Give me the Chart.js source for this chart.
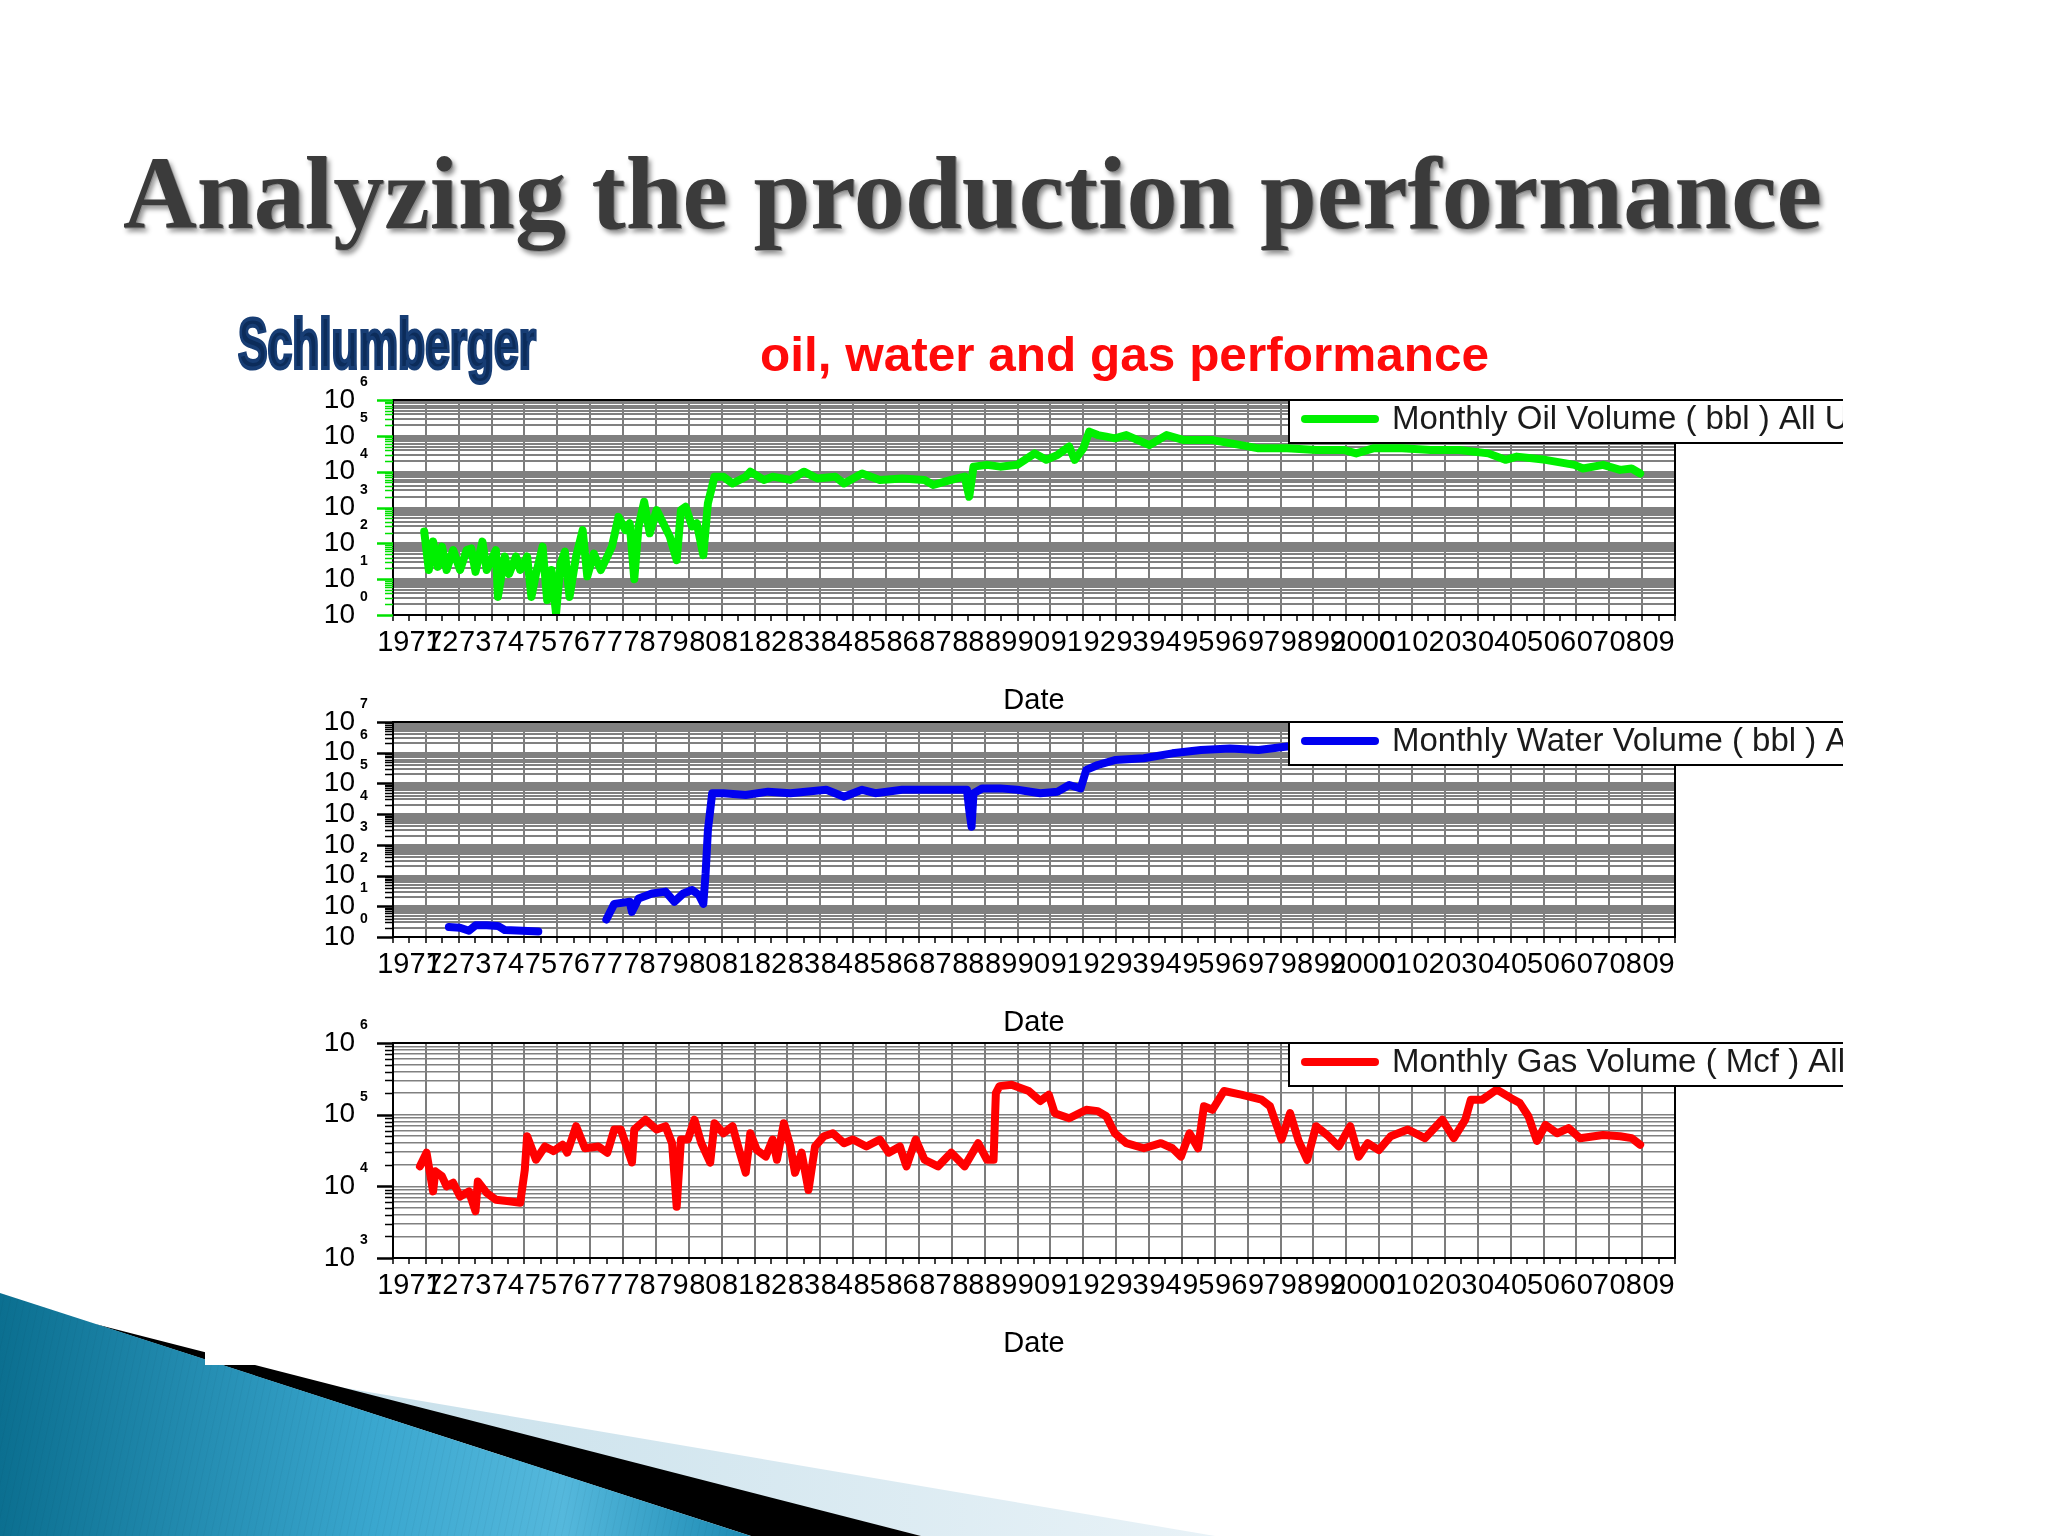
<!DOCTYPE html>
<html>
<head>
<meta charset="utf-8">
<script src="https://cdn.jsdelivr.net/npm/chart.js@4.4.1/dist/chart.umd.min.js"></script>
<style>
  html, body { margin: 0; padding: 0; background: #fff; }
  body { width: 2048px; height: 1536px; position: relative; overflow: hidden; }
  #deco { position: absolute; left: 0; top: 0; }
  .txt { position: absolute; white-space: nowrap; transform-origin: 0 0; }
  #title { left: 123px; top: 142px; font: bold 103px/103px 'Liberation Serif', 'Times New Roman', serif; color: #3b3b3b;
           text-shadow: 1px 1px 0 #8c8c8c, 3px 4px 5px rgba(0,0,0,0.45); }
  #logo { left: 238px; top: 309px; font: bold 70px/70px 'Liberation Sans', Arial, sans-serif; color: #0c2c5a;
          -webkit-text-stroke: 4px #173d74; }
  #subtitle { left: 760px; top: 330px; font: bold 49px/49px 'Liberation Sans', Arial, sans-serif; color: #ff0a0a; }
  .chart-box { position: absolute; left: 300px; width: 1560px; height: 350px; }
</style>
</head>
<body>
<svg id="deco" width="2048" height="1536">
  <defs>
    <linearGradient id="blueGrad" x1="0" y1="0" x2="1" y2="0">
      <stop offset="0" stop-color="#0b6f90"/>
      <stop offset="0.5" stop-color="#3aa7cf"/>
      <stop offset="0.75" stop-color="#55b8dc"/>
      <stop offset="1" stop-color="#1b8ab3"/>
    </linearGradient>
    <linearGradient id="paleGrad" x1="0" y1="0" x2="1" y2="0">
      <stop offset="0" stop-color="#c6dfea"/>
      <stop offset="1" stop-color="#e8f2f7"/>
    </linearGradient>
    <pattern id="stripes" width="7" height="7" patternUnits="userSpaceOnUse" patternTransform="rotate(12)">
      <line x1="0" y1="0" x2="0" y2="7" stroke="rgba(0,40,60,0.10)" stroke-width="1"/>
    </pattern>
  </defs>
  <polygon points="286,1378 1215,1536 921,1536" fill="url(#paleGrad)"/>
  <polygon points="95,1324 921,1536 751,1536" fill="#000"/>
  <polygon points="0,1293 751,1536 0,1536" fill="url(#blueGrad)"/>
  <polygon points="0,1293 751,1536 0,1536" fill="url(#stripes)"/>
  <rect x="205" y="1200" width="1843" height="165" fill="#fff"/>
</svg>

<div id="title" class="txt">Analyzing the production performance</div>
<div id="logo" class="txt">Schlumberger</div>
<div id="subtitle" class="txt">oil, water and gas performance</div>

<div class="chart-box" style="top:370px"><canvas id="oilChart" width="1560" height="350"></canvas></div>
<div class="chart-box" style="top:692px"><canvas id="waterChart" width="1560" height="350"></canvas></div>
<div class="chart-box" style="top:1013px"><canvas id="gasChart" width="1560" height="350"></canvas></div>

<script>
const firstYear = 1971;
const yearLabels = ['1971', '72', '73', '74', '75', '76', '77', '78', '79', '80',
    '81', '82', '83', '84', '85', '86', '87', '88', '89', '90',
    '91', '92', '93', '94', '95', '96', '97', '98', '99', '2000',
    '01', '02', '03', '04', '05', '06', '07', '08', '09'];

// oil, bbl per month
const oilYears = [1971.95, 1972.09, 1972.22, 1972.36, 1972.49, 1972.63, 1972.83, 1973.04, 1973.24, 1973.38,
    1973.51, 1973.72, 1973.85, 1974.13, 1974.19, 1974.40, 1974.53, 1974.74, 1974.87, 1975.08,
    1975.21, 1975.35, 1975.55, 1975.69, 1975.82, 1975.96, 1976.10, 1976.23, 1976.37, 1976.57,
    1976.77, 1976.91, 1977.11, 1977.32, 1977.52, 1977.66, 1977.86, 1978.07, 1978.20, 1978.34,
    1978.47, 1978.64, 1978.81, 1979.02, 1979.22, 1979.42, 1979.63, 1979.76, 1979.90, 1980.10,
    1980.24, 1980.44, 1980.58, 1980.78, 1981.05, 1981.33, 1981.73, 1981.87, 1982.28, 1982.55,
    1983.09, 1983.50, 1983.91, 1984.45, 1984.72, 1985.27, 1985.81, 1986.49, 1987.17, 1987.44,
    1987.98, 1988.39, 1988.53, 1988.66, 1989.07,
    1989.47, 1989.99, 1990.52, 1990.87, 1991.22, 1991.57, 1991.74, 1992.00, 1992.18, 1992.44,
    1992.70, 1992.96, 1993.31, 1994.01, 1994.53, 1995.06, 1995.93, 1996.80, 1997.33, 1998.20,
    1999.08, 1999.95, 2000.30, 2000.82, 2001.70, 2002.57, 2003.44, 2004.32, 2004.84, 2005.19,
    2006.06, 2006.94, 2007.20, 2007.81, 2008.33, 2008.68, 2008.94];
const oilValues = [214, 18, 112, 22, 81, 18, 65, 18, 65, 72,
    16, 112, 18, 65, 3.2, 43, 14, 43, 18, 43,
    3.2, 14, 81, 2.6, 18, 1.1, 28, 59, 3.2, 43,
    234, 12, 52, 18, 43, 81, 550, 234, 363, 10,
    295, 1445, 191, 851, 363, 155, 34, 851, 1047, 295,
    363, 47, 1318, 7244, 7244, 4677, 7244, 10000, 5888, 7244,
    5888, 10000, 6457, 7244, 4677, 8913, 5888, 6457, 5888, 4266,
    5888, 7244, 1995, 13800, 15500,
    13800, 15500, 32400, 21400, 29500, 50100, 21400, 44700, 131000, 105000,
    95000, 85000, 105000, 55000, 105000, 76000, 76000, 55000, 44700, 44700,
    40000, 40000, 32400, 44700, 44700, 40000, 40000, 32400, 21400, 26300,
    21400, 15500, 12300, 15500, 11200, 12300, 8900];

// water, bbl per month (null = no production)
const waterYears = [1972.70, 1973.04, 1973.31, 1973.51, 1973.85, 1974.19, 1974.40, 1974.94, 1975.42, 1976.50,
    1977.49, 1977.73, 1978.20, 1978.27, 1978.47, 1978.88, 1979.29, 1979.56, 1979.83, 1980.10,
    1980.31, 1980.44, 1980.51, 1980.58, 1980.71, 1981.05, 1981.73, 1982.41, 1983.09, 1984.18,
    1984.72, 1985.27, 1985.67, 1986.49, 1987.44, 1988.46, 1988.53, 1988.60, 1988.66, 1988.93,
    1989.47, 1989.99, 1990.69, 1991.22, 1991.57, 1991.92, 1992.09, 1992.44, 1992.96, 1993.84,
    1994.71, 1995.58, 1996.46, 1997.33, 1998.20, 1999.50, 2001.00, 2003.00, 2005.00, 2007.00,
    2008.94];
const waterValues = [2.1, 2.0, 1.6, 2.4, 2.4, 2.3, 1.7, 1.6, 1.5, null,
    3.7, 12, 14, 6.6, 18, 26, 30, 14, 26, 34,
    23, 12, 117, 3020, 48000, 48000, 42000, 54000, 48000, 62000,
    37000, 62000, 48000, 62000, 62000, 62000, 13500, 3900, 48000, 69000,
    69000, 62000, 48000, 54000, 89000, 69000, 275000, 398000, 575000, 660000,
    955000, 1230000, 1380000, 1230000, 1590000, 1700000, 1800000, 1900000, 2000000, 2050000,
    2100000];

// gas, Mcf per month
const gasYears = [1971.82, 1972.02, 1972.09, 1972.22, 1972.29, 1972.49, 1972.63, 1972.83, 1973.04, 1973.31,
    1973.51, 1973.58, 1973.85, 1974.13, 1974.53, 1974.87, 1975.01, 1975.08, 1975.35, 1975.62,
    1975.89, 1976.16, 1976.30, 1976.57, 1976.84, 1977.25, 1977.52, 1977.73, 1977.93, 1978.27,
    1978.34, 1978.68, 1979.02, 1979.29, 1979.49, 1979.63, 1979.76, 1979.97, 1980.17, 1980.38,
    1980.65, 1980.78, 1981.05, 1981.33, 1981.53, 1981.73, 1981.87, 1982.07, 1982.34, 1982.55,
    1982.68, 1982.89, 1983.09, 1983.23, 1983.43, 1983.64, 1983.84, 1984.11, 1984.38, 1984.72,
    1984.99, 1985.40, 1985.81, 1986.08, 1986.42, 1986.62, 1986.90, 1987.17, 1987.58, 1987.98,
    1988.39, 1988.80, 1989.07, 1989.27, 1989.34, 1989.45,
    1989.82, 1990.34, 1990.69, 1990.95, 1991.13, 1991.57, 1992.09, 1992.44, 1992.70, 1992.96,
    1993.31, 1993.84, 1994.36, 1994.71, 1994.97, 1995.23, 1995.49, 1995.67, 1995.93, 1996.28,
    1996.80, 1997.42, 1997.68, 1998.03, 1998.29, 1998.55, 1998.81, 1999.08, 1999.42, 1999.77,
    2000.12, 2000.38, 2000.65, 2000.99, 2001.35, 2001.87, 2002.39, 2002.92, 2003.27, 2003.62,
    2003.79, 2004.14, 2004.58, 2005.01, 2005.28, 2005.54, 2005.80, 2006.06, 2006.41, 2006.76,
    2007.11, 2007.81, 2008.33, 2008.68, 2008.94];
const gasValues = [19000, 29500, 19000, 8500, 16200, 13800, 10000, 11200, 7200, 8500,
    4500, 11700, 8100, 6500, 6200, 5900, 17000, 50000, 23500, 36000,
    31000, 38000, 29500, 69000, 34000, 36000, 29500, 62000, 62000, 21500,
    62000, 85000, 62000, 69000, 40000, 5200, 45000, 45000, 85000, 40000,
    21500, 76000, 55000, 69000, 32000, 15500, 55000, 32000, 26000, 45000,
    23500, 76000, 36000, 15500, 29500, 8900, 36000, 50000, 55000, 40000,
    45000, 36000, 45000, 29500, 36000, 19000, 45000, 23500, 19000, 29500,
    19000, 40000, 23500, 23500, 200000, 250000,
    262000, 214000, 155000, 190000, 105000, 89000, 117000, 112000, 95000, 55000,
    40000, 34000, 40000, 34000, 26000, 55000, 34000, 131000, 117000, 214000,
    190000, 162000, 131000, 45000, 105000, 43000, 23500, 69000, 52000, 36000,
    69000, 26000, 40000, 32000, 50000, 62000, 47000, 85000, 47000, 85000,
    162000, 162000, 224000, 170000, 145000, 95000, 43000, 72000, 55000, 65000,
    47000, 52000, 50000, 47000, 38000];

Chart.defaults.font.family = "'Liberation Sans', Arial, sans-serif";
Chart.defaults.color = '#000';

function toPoints(xs, ys) {
    return xs.map((x, i) => ({ x: x, y: ys[i] }));
}

function isDecade(v) {
    const l = Math.log10(v);
    return Math.abs(l - Math.round(l)) < 1e-9;
}

// every 1..9 x 10^n line, like the old log paper
function logTicks(scale) {
    const lo = Math.round(Math.log10(scale.min));
    const hi = Math.round(Math.log10(scale.max));
    const ticks = [];
    for (let e = lo; e < hi; e++) {
        for (let m = 1; m < 10; m++) ticks.push({ value: m * Math.pow(10, e) });
    }
    ticks.push({ value: Math.pow(10, hi) });
    scale.ticks = ticks;
}

// half year ticks: grid on whole years, label in the middle of the year
function yearTicks(scale) {
    const ticks = [];
    for (let v = scale.min; v <= scale.max; v += 0.5) ticks.push({ value: v });
    scale.ticks = ticks;
}

function yearLabel(v) {
    return v % 1 === 0.5 ? yearLabels[Math.floor(v) - firstYear] : '';
}

const framePlugin = {
    id: 'frame',
    afterDatasetsDraw(chart) {
        const { ctx, chartArea: a } = chart;
        ctx.save();
        ctx.strokeStyle = '#000';
        ctx.lineWidth = 2;
        ctx.strokeRect(a.left, a.top, a.right - a.left, a.bottom - a.top);
        ctx.restore();
    }
};

// y tick marks (long on decades, short between) and the raised exponents
const decadePlugin = {
    id: 'decades',
    afterDraw(chart, args, opts) {
        const { ctx, chartArea: a } = chart;
        const y = chart.scales.y;
        ctx.save();
        ctx.strokeStyle = opts.color;
        ctx.fillStyle = '#000';
        ctx.font = "bold 14px 'Liberation Sans', Arial, sans-serif";
        ctx.textAlign = 'left';
        ctx.textBaseline = 'middle';
        y.ticks.forEach(t => {
            const major = isDecade(t.value);
            const py = Math.round(y.getPixelForValue(t.value)) + 0.5;
            ctx.lineWidth = major ? 2.5 : 1.5;
            ctx.beginPath();
            ctx.moveTo(a.left - (major ? 16 : 8), py);
            ctx.lineTo(a.left, py);
            ctx.stroke();
            if (major) ctx.fillText(String(Math.round(Math.log10(t.value))), a.left - 33, py - 18);
        });
        ctx.restore();
    }
};

const boxLegend = {
    id: 'boxLegend',
    afterDraw(chart, args, opts) {
        const { ctx, chartArea: a } = chart;
        const ds = chart.data.datasets[0];
        const x0 = a.right - opts.inset, y0 = a.top, w = opts.width, h = opts.height;
        ctx.save();
        ctx.fillStyle = '#fff';
        ctx.fillRect(x0, y0, w, h);
        ctx.strokeStyle = '#000';
        ctx.lineWidth = 2;
        ctx.beginPath();
        ctx.moveTo(x0 + w, y0);
        ctx.lineTo(x0, y0);
        ctx.lineTo(x0, y0 + h);
        ctx.lineTo(x0 + w, y0 + h);
        ctx.stroke();
        ctx.beginPath();
        ctx.rect(x0, y0 - 2, w, h + 4);
        ctx.clip();
        ctx.strokeStyle = ds.borderColor;
        ctx.lineWidth = 8;
        ctx.lineCap = 'round';
        ctx.beginPath();
        ctx.moveTo(x0 + 16, y0 + 19);
        ctx.lineTo(x0 + 86, y0 + 19);
        ctx.stroke();
        ctx.fillStyle = '#1a1a1a';
        ctx.font = "33px 'Liberation Sans', Arial, sans-serif";
        ctx.textAlign = 'left';
        ctx.textBaseline = 'middle';
        ctx.fillText(ds.label, x0 + 103, y0 + 20);
        ctx.restore();
    }
};

function makeChart(id, opt) {
    const ctx = document.getElementById(id).getContext('2d');
    return new Chart(ctx, {
        type: 'line',
        data: {
            datasets: [{
                label: opt.label,
                data: toPoints(opt.years, opt.values),
                borderColor: opt.color,
                borderWidth: 8,
                pointRadius: 0,
                tension: 0,
                spanGaps: false,
                borderJoinStyle: 'round',
                borderCapStyle: 'round'
            }]
        },
        options: {
            responsive: false,
            animation: false,
            layout: { padding: { top: 30, right: 185, bottom: 2, left: 0 } },
            plugins: {
                legend: { display: false },
                tooltip: { enabled: false },
                decades: { color: opt.tickColor },
                boxLegend: { inset: 386, width: 554, height: 43 }
            },
            scales: {
                x: {
                    type: 'linear',
                    min: firstYear,
                    max: firstYear + yearLabels.length,
                    afterBuildTicks: yearTicks,
                    afterFit: s => { s.height = 103; },
                    ticks: {
                        autoSkip: false, maxRotation: 0, minRotation: 0, padding: 5,
                        font: { size: 29 }, color: '#000', callback: yearLabel
                    },
                    grid: {
                        color: c => (c.tick && Number.isInteger(c.tick.value)) ? '#7c7c7c' : 'rgba(0,0,0,0)',
                        lineWidth: 2, tickColor: '#000', tickLength: 6, tickWidth: 1.5
                    },
                    border: { display: false },
                    title: { display: true, text: 'Date', font: { size: 29 }, color: '#000', padding: 0 }
                },
                y: {
                    type: 'logarithmic',
                    min: opt.yMin,
                    max: opt.yMax,
                    afterBuildTicks: logTicks,
                    afterFit: s => { s.width = 93; },
                    ticks: {
                        autoSkip: false, padding: 0, font: { size: 28 }, color: '#000',
                        callback: v => isDecade(v) ? '10' : ''
                    },
                    // tick marks themselves come from the decades plugin
                    grid: { color: '#808080', lineWidth: opt.gridWidth, tickColor: 'rgba(0,0,0,0)', tickLength: 38 },
                    border: { display: false }
                }
            }
        },
        plugins: [framePlugin, decadePlugin, boxLegend]
    });
}

makeChart('oilChart', {
    label: 'Monthly Oil Volume ( bbl ) All Units',
    years: oilYears, values: oilValues,
    color: '#00f000', tickColor: '#00e000',
    yMin: 1, yMax: 1e6, gridWidth: 2
});

makeChart('waterChart', {
    label: 'Monthly Water Volume ( bbl ) All Units',
    years: waterYears, values: waterValues,
    color: '#0000f0', tickColor: '#000',
    yMin: 1, yMax: 1e7, gridWidth: 2
});

makeChart('gasChart', {
    label: 'Monthly Gas Volume ( Mcf ) All Units',
    years: gasYears, values: gasValues,
    color: '#ff0000', tickColor: '#000',
    yMin: 1e3, yMax: 1e6, gridWidth: 1.5
});

// stretch the slide texts to the widths they have on the slide
function fitWidth(id, w) {
    const el = document.getElementById(id);
    const r = w / el.getBoundingClientRect().width;
    el.style.transform = 'scaleX(' + r + ')';
}
fitWidth('title', 1699);
fitWidth('logo', 298);
fitWidth('subtitle', 729);
</script>
</body>
</html>
